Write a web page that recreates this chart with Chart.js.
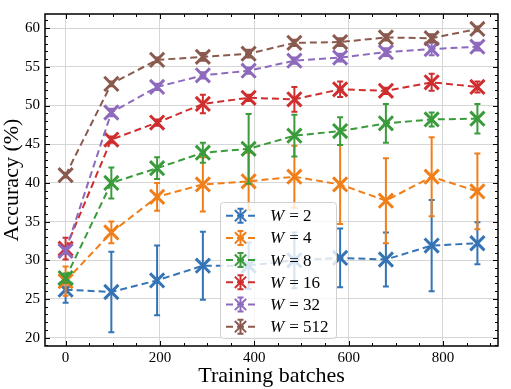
<!DOCTYPE html>
<html>
<head>
<meta charset="utf-8">
<script src="https://cdn.jsdelivr.net/npm/chart.js@4/dist/chart.umd.min.js"></script>
<style>
  html, body { margin: 0; padding: 0; background: #fff; }
  #wrap { width: 511px; height: 389px; }
</style>
</head>
<body>
<div id="wrap"><canvas id="chart-acc" width="511" height="389"></canvas></div>
<script>
// training batches (x) and tick marks
const xBatches = [0, 97, 194, 291, 388, 485, 582, 679, 776, 873];
const xTicks = [0, 200, 400, 600, 800];
const yTicks = [20, 25, 30, 35, 40, 45, 50, 55, 60];

const seriesLabels = ['2', '4', '8', '16', '32', '512'];
const seriesColors = ['#3474b6', '#f07f1a', '#3a9b3a', '#cf2d2e', '#8e6abd', '#8a5a4e'];

// mean accuracy (%) per W
const accW2   = [26.2, 25.9, 27.4, 29.3, 29.3, 30.0, 30.3, 30.1, 31.9, 32.2];
const accW4   = [27.3, 33.6, 38.2, 39.8, 40.2, 40.8, 39.8, 37.7, 40.8, 38.9];
const accW8   = [27.7, 40.0, 41.9, 43.9, 44.4, 46.1, 46.7, 47.7, 48.2, 48.3];
const accW16  = [31.5, 45.6, 47.8, 50.2, 51.0, 50.8, 52.1, 51.9, 53.0, 52.4];
const accW32  = [31.2, 49.1, 52.4, 53.9, 54.5, 55.8, 56.2, 56.9, 57.3, 57.6];
const accW512 = [41.0, 52.8, 55.9, 56.3, 56.7, 58.1, 58.2, 58.8, 58.7, 59.9];

// error bar half-lengths
const errW2   = [1.7, 5.2, 4.5, 4.4, 3.0, 3.6, 3.8, 3.5, 5.9, 2.7];
const errW4   = [1.9, 1.4, 1.8, 3.5, 3.7, 4.0, 5.1, 5.5, 5.1, 4.9];
const errW8   = [0.6, 2.0, 1.4, 1.3, 4.5, 2.7, 1.8, 2.5, 0.9, 1.9];
const errW16  = [1.4, 0.4, 0.4, 1.2, 0.4, 1.6, 1.0, 0.4, 1.1, 0.7];
const errW32  = [0.4, 0.5, 0.4, 0.4, 0.4, 0.4, 0.5, 0.5, 0.8, 0.5];
const errW512 = [0.3, 0.3, 0.3, 0.5, 0.5, 0.4, 0.5, 0.4, 0.5, 0.3];

const accAll = [accW2, accW4, accW8, accW16, accW32, accW512];
const errAll = [errW2, errW4, errW8, errW16, errW32, errW512];

const SERIF = "'Liberation Serif', 'DejaVu Serif', serif";
const DASH = [7, 4];

function drawErrBar(ctx, x, yTop, yBot, color, cap) {
    ctx.save();
    ctx.strokeStyle = color;
    ctx.lineWidth = 2;
    ctx.setLineDash([]);
    ctx.beginPath();
    ctx.moveTo(x, yTop); ctx.lineTo(x, yBot);
    ctx.moveTo(x - cap, yTop); ctx.lineTo(x + cap, yTop);
    ctx.moveTo(x - cap, yBot); ctx.lineTo(x + cap, yBot);
    ctx.stroke();
    ctx.restore();
}

// error bars, drawn right after each series so layering follows the series order
const errorBars = {
    id: 'errorBars',
    afterDatasetDraw(chart, args) {
        const i = args.index;
        const xs = chart.scales.x, ys = chart.scales.y;
        const ctx = chart.ctx;
        accAll[i].forEach((v, j) => {
            const px = xs.getPixelForValue(xBatches[j]);
            drawErrBar(ctx, px, ys.getPixelForValue(v + errAll[i][j]), ys.getPixelForValue(v - errAll[i][j]), seriesColors[i], 3);
        });
    }
};

// frame + inward ticks on all four sides
const frameTicks = {
    id: 'frameTicks',
    afterDraw(chart) {
        const { ctx, chartArea: a, scales: { x, y } } = chart;
        ctx.save();
        ctx.strokeStyle = '#000';
        ctx.lineWidth = 1;
        ctx.beginPath();
        const tick = (px, len, vertical) => {
            if (vertical) {
                ctx.moveTo(px, a.bottom); ctx.lineTo(px, a.bottom - len);
                ctx.moveTo(px, a.top); ctx.lineTo(px, a.top + len);
            } else {
                ctx.moveTo(a.left, px); ctx.lineTo(a.left + len, px);
                ctx.moveTo(a.right, px); ctx.lineTo(a.right - len, px);
            }
        };
        for (let v = 0; v <= x.max; v += 50) {
            const px = Math.round(x.getPixelForValue(v)) + 0.5;
            tick(px, v % 200 === 0 ? 5 : 3, true);
        }
        for (let v = Math.ceil(y.min); v <= y.max; v += 1) {
            const py = Math.round(y.getPixelForValue(v)) + 0.5;
            tick(py, v % 5 === 0 ? 5 : 3, false);
        }
        ctx.stroke();
        ctx.lineWidth = 1.5;
        ctx.strokeRect(a.left, a.top, a.right - a.left, a.bottom - a.top);
        ctx.restore();
    }
};

// legend box inside the plot
const legendBox = {
    id: 'legendBox',
    afterDatasetsDraw(chart) {
        const ctx = chart.ctx;
        const bx = 220, by = 202, bw = 116, bh = 136;
        ctx.save();
        ctx.fillStyle = 'rgba(255,255,255,0.8)';
        ctx.strokeStyle = 'rgba(204,204,204,0.9)';
        ctx.lineWidth = 1;
        ctx.beginPath();
        ctx.roundRect(bx + 0.5, by + 0.5, bw, bh, 3);
        ctx.fill();
        ctx.stroke();
        seriesLabels.forEach((lab, i) => {
            const cy = 215.7 + 22.2 * i;
            const col = seriesColors[i];
            ctx.strokeStyle = col;
            ctx.lineWidth = 2;
            ctx.setLineDash(DASH);
            ctx.beginPath();
            ctx.moveTo(226, cy); ctx.lineTo(255, cy);
            ctx.stroke();
            ctx.setLineDash([]);
            drawErrBar(ctx, 240.5, cy - 7, cy + 7, col, 3);
            ctx.strokeStyle = col;
            Chart.helpers.drawPoint(ctx, { pointStyle: 'crossRot', radius: 8, borderWidth: 3 }, 240.5, cy);
            ctx.fillStyle = '#000';
            ctx.textBaseline = 'middle';
            ctx.font = 'italic 17px ' + SERIF;
            ctx.fillText('W', 270, cy + 1);
            const w = ctx.measureText('W').width;
            ctx.font = '17px ' + SERIF;
            ctx.fillText('= ' + lab, 270 + w + 5, cy + 1);
        });
        ctx.restore();
    }
};

const datasets = accAll.map((vals, i) => ({
    label: 'W = ' + seriesLabels[i],
    data: vals.map((v, j) => ({ x: xBatches[j], y: v })),
    borderColor: seriesColors[i],
    backgroundColor: seriesColors[i],
    borderWidth: 2,
    borderDash: DASH,
    pointStyle: 'crossRot',
    pointRadius: 10,
    pointBorderWidth: 3,
    order: accAll.length - i
}));

new Chart(document.getElementById('chart-acc'), {
    type: 'line',
    data: { datasets },
    options: {
        responsive: false,
        devicePixelRatio: 1,
        animation: false,
        layout: { padding: { top: 2, right: 2, left: 0, bottom: 0 } },
        plugins: { legend: { display: false }, tooltip: { enabled: false } },
        scales: {
            x: {
                type: 'linear',
                min: -43.65, max: 916.65,
                afterBuildTicks: s => { s.ticks = xTicks.map(v => ({ value: v })); },
                afterFit: s => { s.height = 43; },
                grid: { color: '#d6d6d6', lineWidth: 1, drawTicks: false },
                border: { display: false },
                ticks: { padding: 3, color: '#000', font: { family: SERIF, size: 15 }, maxRotation: 0 },
                title: { display: true, text: 'Training batches', color: '#000', font: { family: SERIF, size: 22, lineHeight: 1.15 }, padding: 0 }
            },
            y: {
                min: 18.92, max: 61.83,
                afterBuildTicks: s => { s.ticks = yTicks.map(v => ({ value: v })); },
                afterFit: s => { s.width = 45; },
                grid: { color: '#d6d6d6', lineWidth: 1, drawTicks: false },
                border: { display: false },
                ticks: { padding: 5, color: '#000', font: { family: SERIF, size: 15 } },
                title: { display: true, text: 'Accuracy (%)', color: '#000', font: { family: SERIF, size: 22, lineHeight: 1.1 }, padding: 0 }
            }
        }
    },
    plugins: [errorBars, legendBox, frameTicks]
});
</script>
</body>
</html>
